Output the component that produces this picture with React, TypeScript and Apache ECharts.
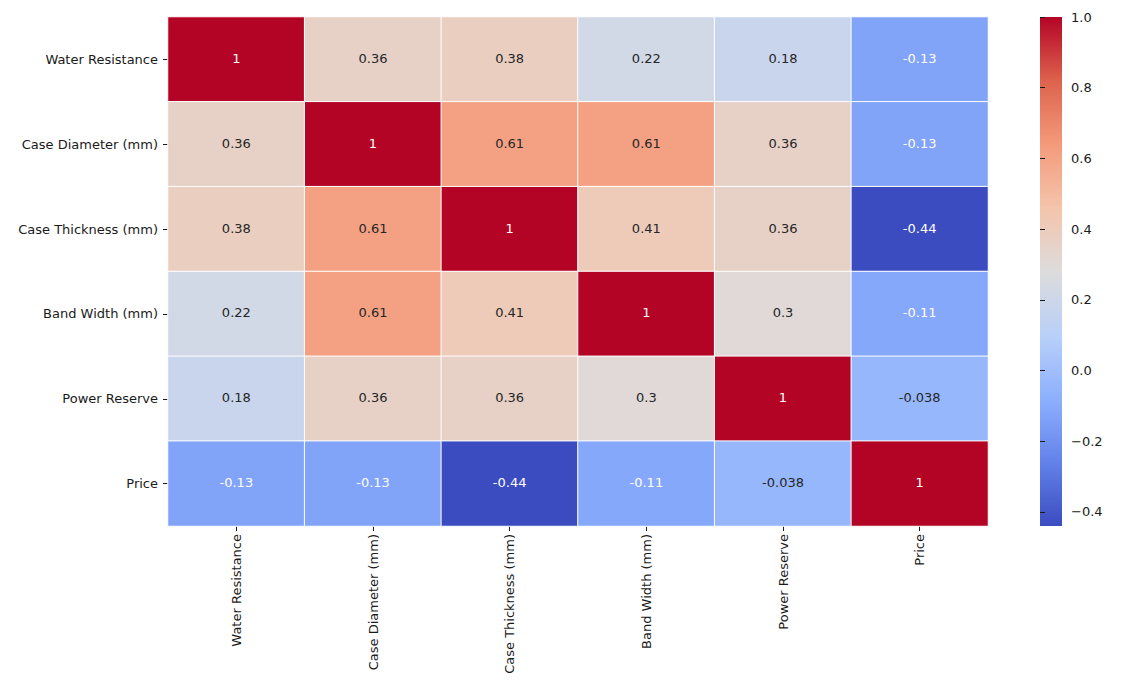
import React, { useEffect, useRef } from "react";
import * as echarts from "echarts";

const labels = [
  "Water Resistance",
  "Case Diameter (mm)",
  "Case Thickness (mm)",
  "Band Width (mm)",
  "Power Reserve",
  "Price",
];

const rowWaterResistance = [1, 0.36, 0.38, 0.22, 0.18, -0.13];
const rowCaseDiameter = [0.36, 1, 0.61, 0.61, 0.36, -0.13];
const rowCaseThickness = [0.38, 0.61, 1, 0.41, 0.36, -0.44];
const rowBandWidth = [0.22, 0.61, 0.41, 1, 0.3, -0.11];
const rowPowerReserve = [0.18, 0.36, 0.36, 0.3, 1, -0.038];
const rowPrice = [-0.13, -0.13, -0.44, -0.11, -0.038, 1];

const matrix = [
  rowWaterResistance,
  rowCaseDiameter,
  rowCaseThickness,
  rowBandWidth,
  rowPowerReserve,
  rowPrice,
];

const vMin = -0.44;
const vMax = 1;
const colorbarTicks = [-0.4, -0.2, 0, 0.2, 0.4, 0.6, 0.8, 1.0];

// matplotlib "coolwarm" sampled at 9 evenly spaced points
const coolwarm = [
  "#3b4cc0",
  "#6282ea",
  "#8db0fe",
  "#b9d0f9",
  "#dddcdc",
  "#f4c4ab",
  "#f49a7b",
  "#dd624d",
  "#b40426",
];

function hexToRgb(h: string) {
  const n = parseInt(h.slice(1), 16);
  return [(n >> 16) & 255, (n >> 8) & 255, n & 255];
}

function colorAt(v: number) {
  let t = (v - vMin) / (vMax - vMin);
  t = Math.max(0, Math.min(1, t));
  const pos = t * (coolwarm.length - 1);
  const i = Math.min(coolwarm.length - 2, Math.floor(pos));
  const f = pos - i;
  const a = hexToRgb(coolwarm[i]);
  const b = hexToRgb(coolwarm[i + 1]);
  return [0, 1, 2].map((k) => a[k] + (b[k] - a[k]) * f);
}

function luminance(rgb: number[]) {
  const lin = rgb.map((c) => {
    const s = c / 255;
    return s <= 0.03928 ? s / 12.92 : Math.pow((s + 0.055) / 1.055, 2.4);
  });
  return 0.2126 * lin[0] + 0.7152 * lin[1] + 0.0722 * lin[2];
}

function fmt2g(v: number) {
  return String(Number(v.toPrecision(2)));
}

const FONT = "DejaVu Sans";
const TEXT = "#1a1a1a";
const FS = 13;

export default function App() {
  const ref = useRef<HTMLDivElement>(null);

  useEffect(() => {
    if (!ref.current) return;
    const chart = echarts.init(ref.current, undefined, { renderer: "svg" });

    const data: any[] = [];
    matrix.forEach((row, yi) => {
      row.forEach((v, xi) => {
        const lum = luminance(colorAt(v));
        data.push({
          value: [xi, yi, v],
          label: { color: lum < 0.408 ? "#ffffff" : "#262626" },
        });
      });
    });

    const gridTop = 17;
    const gridH = 509;

    chart.setOption({
      animation: false,
      backgroundColor: "#ffffff",
      textStyle: { fontFamily: FONT },
      grid: [
        { left: 168, top: gridTop, width: 820, height: gridH },
        { left: 1040, top: gridTop, width: 22, height: gridH },
      ],
      xAxis: [
        {
          type: "category",
          gridIndex: 0,
          data: labels,
          position: "bottom",
          axisLine: { show: false },
          axisTick: { show: true, alignWithLabel: true, length: 5, lineStyle: { color: TEXT } },
          axisLabel: {
            rotate: 90,
            margin: 8,
            fontSize: FS,
            color: TEXT,
            fontFamily: FONT,
            interval: 0,
          },
          splitLine: { show: false },
        },
        {
          type: "value",
          gridIndex: 1,
          show: false,
          min: 0,
          max: 1,
        },
      ],
      yAxis: [
        {
          type: "category",
          gridIndex: 0,
          data: labels,
          inverse: true,
          axisLine: { show: false },
          axisTick: { show: true, alignWithLabel: true, length: 5, lineStyle: { color: TEXT } },
          axisLabel: {
            margin: 10,
            fontSize: FS,
            color: TEXT,
            fontFamily: FONT,
            interval: 0,
            padding: [0, 0, 2, 0],
          },
          splitLine: { show: false },
        },
        {
          type: "value",
          gridIndex: 1,
          position: "right",
          min: vMin,
          max: vMax,
          axisLine: { show: false },
          splitLine: { show: false },
          axisTick: {
            show: true,
            length: 5,
            customValues: colorbarTicks,
            lineStyle: { color: TEXT },
          },
          axisLabel: {
            margin: 9,
            fontSize: FS,
            color: TEXT,
            fontFamily: FONT,
            customValues: colorbarTicks,
            formatter: (v: number) => {
              const s = Math.abs(v).toFixed(1);
              return v < -1e-9 ? "\u2212" + s : s;
            },
          },
        },
      ],
      visualMap: {
        show: false,
        type: "continuous",
        min: vMin,
        max: vMax,
        seriesIndex: 0,
        dimension: 2,
        inRange: { color: coolwarm },
      },
      graphic: [
        {
          type: "rect",
          left: 1040,
          top: gridTop,
          z: -1,
          shape: { width: 22, height: gridH },
          style: {
            fill: new echarts.graphic.LinearGradient(
              0,
              0,
              0,
              1,
              coolwarm
                .slice()
                .reverse()
                .map((c, i) => ({ offset: i / (coolwarm.length - 1), color: c }))
            ),
          },
        },
      ],
      series: [
        {
          type: "heatmap",
          xAxisIndex: 0,
          yAxisIndex: 0,
          data,
          itemStyle: { borderColor: "#ffffff", borderWidth: 1 },
          label: {
            show: true,
            fontSize: FS,
            fontFamily: FONT,
            offset: [0, -1],
            formatter: (p: any) => fmt2g(p.value[2]),
          },
          emphasis: { disabled: true },
        },
      ],
    });

    return () => chart.dispose();
  }, []);

  return (
    <div
      ref={ref}
      style={{ position: "absolute", left: 0, top: 0, width: 1123, height: 694 }}
    />
  );
}
